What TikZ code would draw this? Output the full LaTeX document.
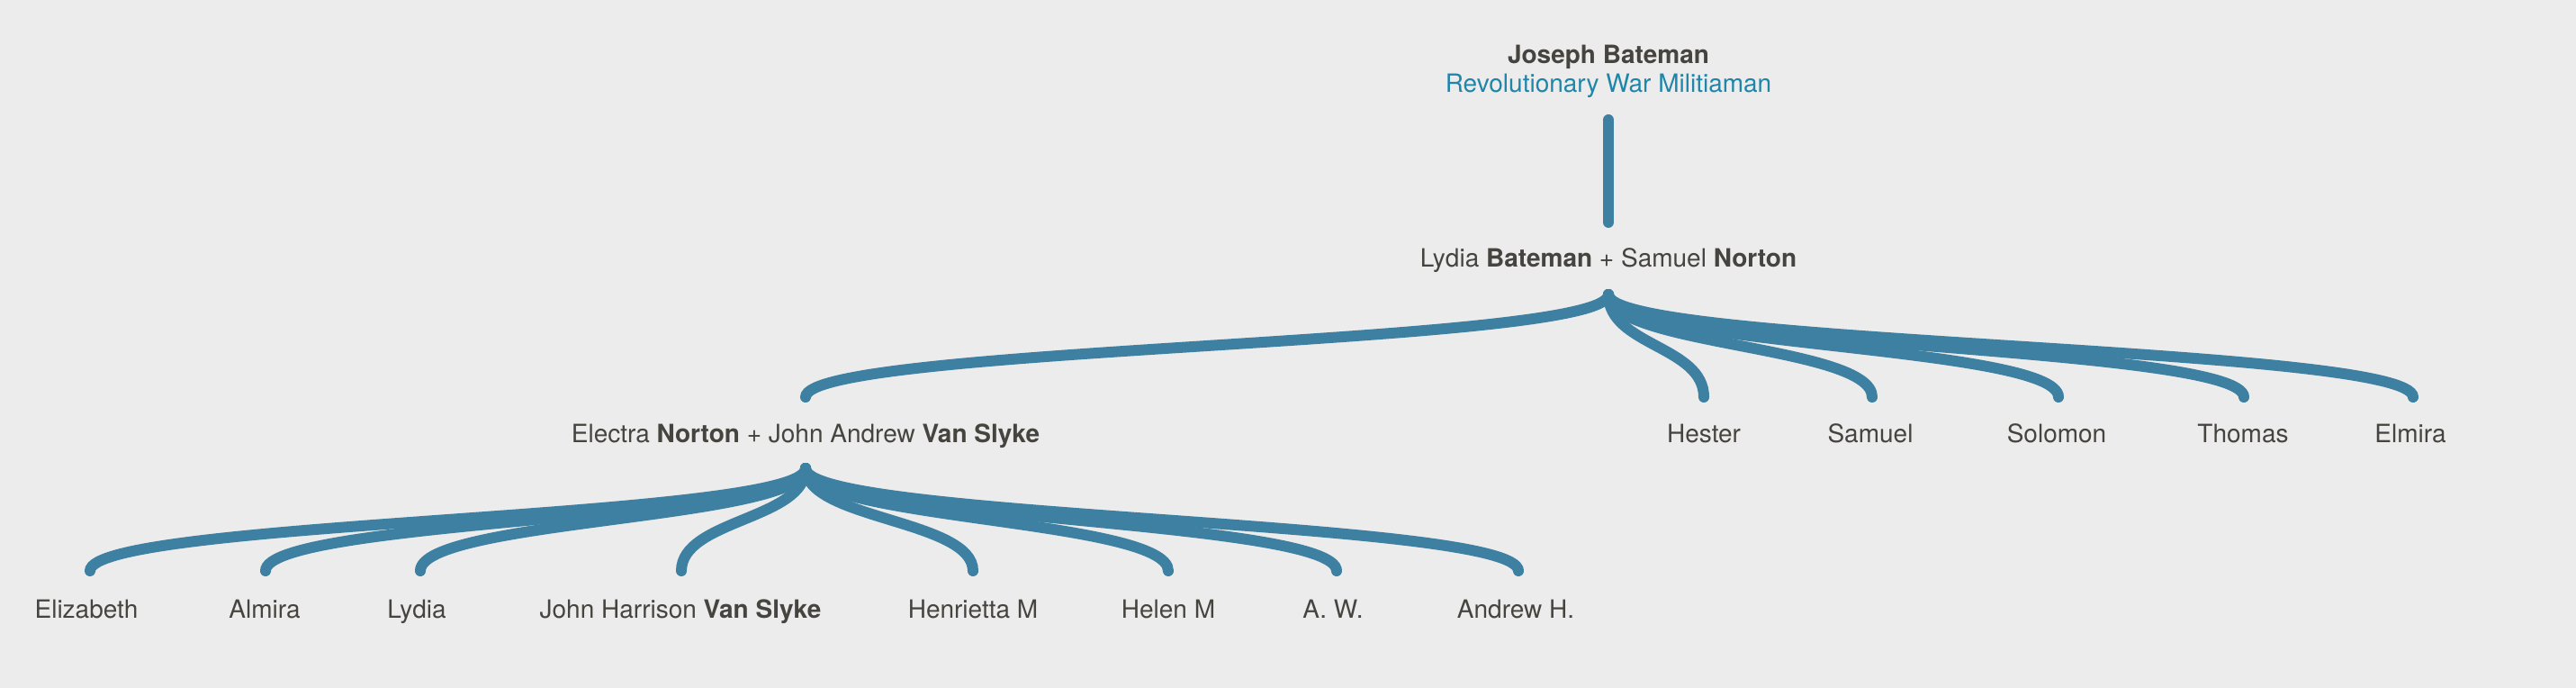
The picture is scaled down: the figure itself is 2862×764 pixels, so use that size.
\documentclass[tikz,border=0pt]{standalone}
\usepackage{fontspec}
\setmainfont{TeX Gyre Heros}
\definecolor{bgc}{HTML}{ECECEC}
\definecolor{linkc}{HTML}{3D80A2}
\definecolor{txtc}{HTML}{46443F}
\definecolor{tealc}{HTML}{1F85A9}
\begin{document}
\begin{tikzpicture}[x=0.5pt,y=-0.5pt,
  link/.style={draw=linkc,line width=6pt,line cap=round},
  lbl/.style={anchor=base,inner sep=0pt,text=txtc,font=\fontsize{14}{16.8}\selectfont}]
\fill[bgc] (0,0) rectangle (2862,764);
\useasboundingbox (0,0) rectangle (2862,764);
% texts
\node[lbl] (joseph) at (1787,71) {\bfseries Joseph Bateman};
\node[lbl,text=tealc] (rev) at (1787,103) {Revolutionary War Militiaman};
\node[lbl] (lydiasam) at (1787,297) {Lydia \textbf{Bateman} + Samuel \textbf{Norton}};
\node[lbl] (electra) at (895,491) {Electra \textbf{Norton} + John Andrew \textbf{Van Slyke}};
\node[lbl] (hester) at (1893,491) {Hester};
\node[lbl] (samuel) at (2078,491) {Samuel};
\node[lbl] (solomon) at (2285,491) {Solomon};
\node[lbl] (thomas) at (2492,491) {Thomas};
\node[lbl] (elmira) at (2678,491) {Elmira};
\node[lbl] (elizabeth) at (96,686) {Elizabeth};
\node[lbl] (almira) at (294,686) {Almira};
\node[lbl] (lydia) at (463,686) {Lydia};
\node[lbl] (jhvs) at (756,686) {John Harrison \textbf{Van Slyke}};
\node[lbl] (henrietta) at (1081,686) {Henrietta M};
\node[lbl] (helen) at (1298,686) {Helen M};
\node[lbl] (aw) at (1481,686) {A. W.};
\node[lbl] (andrew) at (1684,686) {Andrew H.};
% connector points
\coordinate (jtop) at (1787,133);
\coordinate (jbot) at (1787,247);
\coordinate (f1) at (1787,327);
\coordinate (e1) at (895,441);
\coordinate (e2) at (1893,441);
\coordinate (e3) at (2080,441);
\coordinate (e4) at (2287,441);
\coordinate (e5) at (2493,441);
\coordinate (e6) at (2681,441);
\coordinate (f2) at (895,520);
\coordinate (g1) at (100,634);
\coordinate (g2) at (295,634);
\coordinate (g3) at (467,634);
\coordinate (g4) at (757,634);
\coordinate (g5) at (1081,634);
\coordinate (g6) at (1298,634);
\coordinate (g7) at (1485,634);
\coordinate (g8) at (1687,634);
% connectors
\draw[link] (jtop) -- (jbot);
\foreach \e in {e1,e2,e3,e4,e5,e6}
  \draw[link] (f1) .. controls +(0,57) and +(0,-57) .. (\e);
\foreach \g in {g1,g2,g3,g4,g5,g6,g7,g8}
  \draw[link] (f2) .. controls +(0,57) and +(0,-57) .. (\g);
\end{tikzpicture}
\end{document}
